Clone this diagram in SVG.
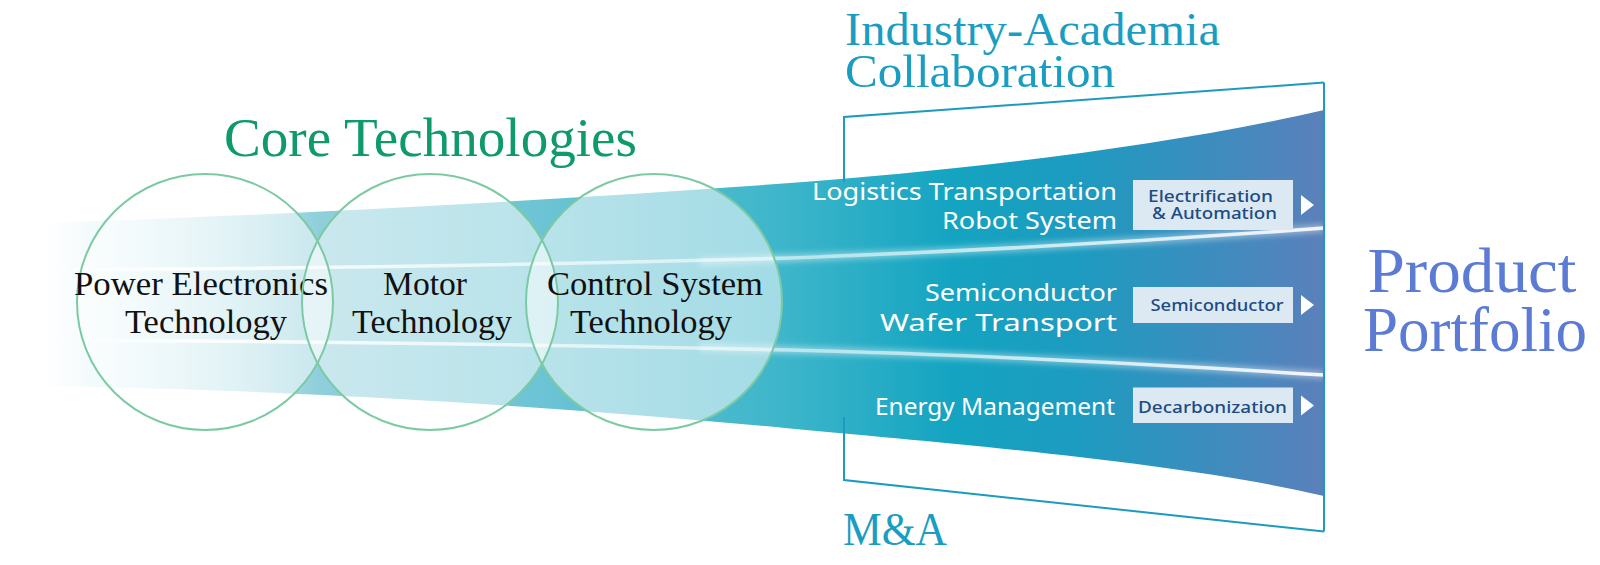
<svg xmlns="http://www.w3.org/2000/svg" width="1600" height="565" viewBox="0 0 1600 565">
<defs>
<style>
.serif{font-family:"Liberation Serif","Times New Roman",serif}
.tech{font-size:34.5px;fill:#111;text-anchor:middle}
.teal{fill:#1a9dc0}
.lab{font-family:"Noto Sans","Open Sans",sans-serif;font-size:23px;fill:#fff;text-anchor:end}
.box{fill:#dde9f2}
.btx{font-family:"Noto Sans","Open Sans",sans-serif;font-size:15.5px;font-weight:500;fill:#1b4c85;text-anchor:middle}
.cfill{fill:#fff;fill-opacity:0.52}
.circ{fill:none;stroke:#7ccaa3;stroke-width:2}
.frame{fill:none;stroke:#1b9cbf;stroke-width:2}
.sep{fill:none;stroke:url(#gleam);stroke-width:3.5}
</style>
<linearGradient id="flow" gradientUnits="userSpaceOnUse" x1="40" y1="0" x2="1324" y2="0">
<stop offset="0" stop-color="#d6eff4" stop-opacity="0"/>
<stop offset="0.09" stop-color="#c4e8ef" stop-opacity="0.55"/>
<stop offset="0.2165" stop-color="#8fcfdb"/>
<stop offset="0.389" stop-color="#6cc4d4"/>
<stop offset="0.584" stop-color="#3cb5ca"/>
<stop offset="0.71" stop-color="#14a4c1"/>
<stop offset="0.81" stop-color="#1d9bc0"/>
<stop offset="0.903" stop-color="#3a8ebf"/>
<stop offset="1" stop-color="#5b80bb"/>
</linearGradient>
<linearGradient id="gleam" gradientUnits="userSpaceOnUse" x1="40" y1="0" x2="1324" y2="0">
<stop offset="0" stop-color="#fff" stop-opacity="0"/>
<stop offset="0.1" stop-color="#fff" stop-opacity="0.9"/>
<stop offset="0.6" stop-color="#fff" stop-opacity="0.5"/>
<stop offset="1" stop-color="#fff" stop-opacity="0.9"/>
</linearGradient>
<filter id="blur" x="-5%" y="-50%" width="110%" height="200%"><feGaussianBlur stdDeviation="3"/></filter>
</defs>
<rect width="1600" height="565" fill="#fff"/>

<g id="funnel">
<path d="M45,223 Q420,210 790,183 C950,171.3 1160,148 1324,110 L1324,496 C1180,462 945,443 785,428 Q400,392 45,386 Z" fill="url(#flow)"/>
<g filter="url(#blur)" opacity="0.45">
<path d="M700,262 Q760,259 790,258 C950,252 1150,241 1324,228" fill="none" stroke="#fff" stroke-width="7"/>
<path d="M700,347 Q760,349 790,350 C950,354 1150,364 1324,375" fill="none" stroke="#fff" stroke-width="7"/>
</g>
<path class="sep" d="M45,270 Q420,268 790,258 C950,252 1150,241 1324,228"/>
<path class="sep" d="M45,340 Q420,342 790,350 C950,354 1150,364 1324,375"/>
</g>

<g id="circle-fills">
<circle class="cfill" cx="205" cy="302" r="128"/>
<circle class="cfill" cx="430" cy="302" r="128"/>
<circle class="cfill" cx="654" cy="302" r="128"/>
</g>

<g id="frame">
<path class="frame" d="M844,182 V117 L1324,82.5"/>
<path class="frame" d="M1324,82.5 V531.5"/>
<path class="frame" d="M844,417 V480 L1324,531.5"/>
</g>

<g id="core-title">
<text class="serif" x="224" y="156" font-size="54.5" fill="#0e9a6b" textLength="413" lengthAdjust="spacingAndGlyphs">Core Technologies</text>
</g>

<g id="power-electronics">
<circle class="circ" cx="205" cy="302" r="128"/>
<text class="serif tech" x="201" y="295" textLength="254" lengthAdjust="spacingAndGlyphs">Power Electronics</text>
<text class="serif tech" x="206" y="333" textLength="162" lengthAdjust="spacingAndGlyphs">Technology</text>
</g>
<g id="motor">
<circle class="circ" cx="430" cy="302" r="128"/>
<text class="serif tech" x="425" y="295" textLength="84" lengthAdjust="spacingAndGlyphs">Motor</text>
<text class="serif tech" x="432" y="333" textLength="160" lengthAdjust="spacingAndGlyphs">Technology</text>
</g>
<g id="control-system">
<circle class="circ" cx="654" cy="302" r="128"/>
<text class="serif tech" x="655" y="295" textLength="216" lengthAdjust="spacingAndGlyphs">Control System</text>
<text class="serif tech" x="651" y="333" textLength="162" lengthAdjust="spacingAndGlyphs">Technology</text>
</g>

<g id="industry-academia">
<text class="serif teal" x="845" y="45" font-size="47" textLength="375" lengthAdjust="spacingAndGlyphs">Industry-Academia</text>
<text class="serif teal" x="845" y="87" font-size="47" textLength="270" lengthAdjust="spacingAndGlyphs">Collaboration</text>
</g>
<g id="ma">
<text class="serif teal" x="843" y="545" font-size="46" textLength="104" lengthAdjust="spacingAndGlyphs">M&amp;A</text>
</g>

<g id="logistics">
<text class="lab" x="1117" y="200" textLength="305" lengthAdjust="spacingAndGlyphs">Logistics Transportation</text>
<text class="lab" x="1117" y="229" textLength="175" lengthAdjust="spacingAndGlyphs">Robot System</text>
</g>
<g id="semiconductor-wafer">
<text class="lab" x="1117" y="301" textLength="192" lengthAdjust="spacingAndGlyphs">Semiconductor</text>
<text class="lab" x="1117" y="331" textLength="237" lengthAdjust="spacingAndGlyphs">Wafer Transport</text>
</g>
<g id="energy">
<text class="lab" x="1115" y="415" textLength="240" lengthAdjust="spacingAndGlyphs">Energy Management</text>
</g>

<g id="box-electrification">
<rect class="box" x="1133" y="180" width="160" height="50"/>
<text class="btx" x="1210.5" y="201.5" textLength="125" lengthAdjust="spacingAndGlyphs">Electrification</text>
<text class="btx" x="1214.5" y="219" textLength="125" lengthAdjust="spacingAndGlyphs">&amp; Automation</text>
</g>
<g id="box-semiconductor">
<rect class="box" x="1133" y="287" width="160" height="36"/>
<text class="btx" x="1217" y="311" textLength="133" lengthAdjust="spacingAndGlyphs">Semiconductor</text>
</g>
<g id="box-decarbonization">
<rect class="box" x="1133" y="387.5" width="160" height="35.5"/>
<text class="btx" x="1212.5" y="412.5" textLength="149" lengthAdjust="spacingAndGlyphs">Decarbonization</text>
</g>

<g id="connectors" fill="#fff">
<polygon points="1301,195 1314,205 1301,215"/>
<polygon points="1301,295 1314,305 1301,315"/>
<polygon points="1301,395.5 1314,405.5 1301,415.5"/>
</g>

<g id="product-portfolio">
<text class="serif" x="1472" y="292" font-size="63" fill="#5b7bd5" text-anchor="middle" textLength="209" lengthAdjust="spacingAndGlyphs">Product</text>
<text class="serif" x="1475" y="351" font-size="63" fill="#5b7bd5" text-anchor="middle" textLength="224" lengthAdjust="spacingAndGlyphs">Portfolio</text>
</g>
</svg>
